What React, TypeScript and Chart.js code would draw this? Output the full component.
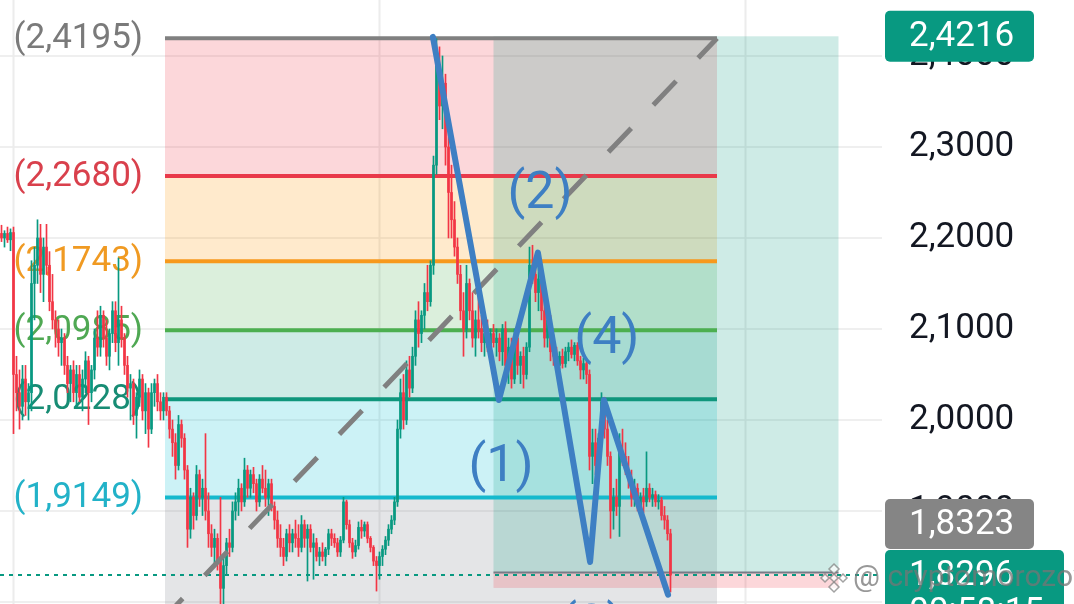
import React, { useEffect, useRef } from "react";
import { Chart, registerables } from "chart.js";

Chart.register(...registerables);

// OHLC candles: [open, high, low, close], one per time step
const candles: [number, number, number, number][] = [
  [2.205, 2.214, 2.196, 2.2], [2.2, 2.208, 2.19, 2.205], [2.205, 2.212, 2.195, 2.198], [2.198, 2.21, 2.186, 2.206],
  [2.206, 2.212, 1.985, 2.05], [2.05, 2.07, 2.01, 2.03], [2.03, 2.055, 1.99, 2.015], [2.015, 2.06, 2.0, 2.045],
  [2.045, 2.06, 2.005, 2.02], [2.02, 2.04, 2.0, 2.03], [2.03, 2.175, 2.01, 2.15], [2.15, 2.19, 2.11, 2.17],
  [2.17, 2.22, 2.15, 2.2], [2.2, 2.215, 2.14, 2.16], [2.16, 2.2, 2.13, 2.19], [2.19, 2.215, 2.16, 2.17],
  [2.17, 2.185, 2.12, 2.13], [2.13, 2.16, 2.1, 2.11], [2.11, 2.12, 2.08, 2.1], [2.1, 2.11, 2.07, 2.085],
  [2.085, 2.1, 2.06, 2.09], [2.09, 2.095, 2.05, 2.06], [2.06, 2.07, 2.03, 2.04], [2.04, 2.06, 2.02, 2.055],
  [2.055, 2.065, 2.02, 2.03], [2.03, 2.06, 2.015, 2.05], [2.05, 2.06, 2.02, 2.025], [2.025, 2.055, 2.01, 2.045],
  [2.045, 2.075, 2.03, 2.065], [2.065, 2.07, 1.995, 2.03], [2.03, 2.06, 2.02, 2.055], [2.055, 2.1, 2.045, 2.09],
  [2.09, 2.12, 2.07, 2.08], [2.08, 2.125, 2.07, 2.115], [2.115, 2.12, 2.08, 2.09], [2.09, 2.11, 2.06, 2.07],
  [2.07, 2.1, 2.055, 2.095], [2.095, 2.13, 2.085, 2.12], [2.12, 2.13, 2.075, 2.085], [2.085, 2.178, 2.06, 2.11],
  [2.11, 2.125, 2.08, 2.09], [2.09, 2.095, 2.05, 2.06], [2.06, 2.07, 2.025, 2.035], [2.035, 2.05, 2.0, 2.04],
  [2.04, 2.045, 1.995, 2.005], [2.005, 2.03, 1.98, 2.025], [2.025, 2.055, 2.015, 2.045], [2.045, 2.05, 2.0, 2.01],
  [2.01, 2.04, 1.985, 2.03], [2.03, 2.035, 1.97, 1.99], [1.99, 2.04, 1.985, 2.03], [2.03, 2.045, 2.015, 2.04],
  [2.04, 2.05, 2.01, 2.02], [2.02, 2.03, 2.0, 2.01], [2.01, 2.03, 2.0, 2.025], [2.025, 2.03, 2.005, 2.01],
  [2.01, 2.015, 1.98, 1.99], [1.99, 2.0, 1.96, 1.975], [1.975, 1.985, 1.935, 1.95], [1.95, 2.005, 1.945, 1.995],
  [1.995, 2.0, 1.97, 1.98], [1.98, 1.985, 1.935, 1.945], [1.945, 1.95, 1.86, 1.88], [1.88, 1.925, 1.87, 1.915],
  [1.915, 1.92, 1.88, 1.895], [1.895, 1.95, 1.89, 1.94], [1.94, 1.945, 1.905, 1.915], [1.915, 1.935, 1.895, 1.925],
  [1.925, 1.985, 1.89, 1.9], [1.9, 1.92, 1.86, 1.875], [1.875, 1.885, 1.85, 1.86], [1.86, 1.88, 1.84, 1.87],
  [1.87, 1.875, 1.835, 1.845], [1.845, 1.915, 1.797, 1.815], [1.815, 1.85, 1.797, 1.84], [1.84, 1.87, 1.83, 1.865],
  [1.865, 1.88, 1.85, 1.86], [1.86, 1.91, 1.855, 1.9], [1.9, 1.92, 1.89, 1.91], [1.91, 1.935, 1.895, 1.925],
  [1.925, 1.93, 1.9, 1.91], [1.91, 1.958, 1.905, 1.945], [1.945, 1.95, 1.915, 1.925], [1.925, 1.945, 1.915, 1.94],
  [1.94, 1.948, 1.92, 1.93], [1.93, 1.935, 1.9, 1.91], [1.91, 1.94, 1.905, 1.935], [1.935, 1.95, 1.92, 1.925],
  [1.925, 1.945, 1.905, 1.915], [1.915, 1.935, 1.895, 1.93], [1.93, 1.935, 1.9, 1.905], [1.905, 1.91, 1.88, 1.89],
  [1.89, 1.9, 1.86, 1.87], [1.87, 1.885, 1.85, 1.86], [1.86, 1.87, 1.84, 1.85], [1.85, 1.88, 1.845, 1.875],
  [1.875, 1.885, 1.855, 1.865], [1.865, 1.88, 1.855, 1.875], [1.875, 1.89, 1.86, 1.87], [1.87, 1.885, 1.85, 1.86],
  [1.86, 1.895, 1.855, 1.885], [1.885, 1.89, 1.86, 1.87], [1.87, 1.885, 1.823, 1.88], [1.88, 1.885, 1.855, 1.86],
  [1.86, 1.875, 1.825, 1.865], [1.865, 1.87, 1.845, 1.85], [1.85, 1.86, 1.84, 1.855], [1.855, 1.865, 1.845, 1.85],
  [1.85, 1.86, 1.84, 1.858], [1.858, 1.88, 1.852, 1.875], [1.875, 1.88, 1.862, 1.87], [1.87, 1.875, 1.86, 1.865],
  [1.865, 1.87, 1.85, 1.855], [1.855, 1.872, 1.85, 1.868], [1.868, 1.915, 1.865, 1.91], [1.91, 1.912, 1.88, 1.885],
  [1.885, 1.89, 1.86, 1.865], [1.865, 1.87, 1.848, 1.855], [1.855, 1.868, 1.85, 1.862], [1.862, 1.888, 1.858, 1.882],
  [1.882, 1.89, 1.87, 1.878], [1.878, 1.888, 1.872, 1.885], [1.885, 1.888, 1.865, 1.87], [1.87, 1.872, 1.855, 1.86],
  [1.86, 1.862, 1.84, 1.845], [1.845, 1.85, 1.812, 1.84], [1.84, 1.855, 1.825, 1.85], [1.85, 1.862, 1.84, 1.858],
  [1.858, 1.872, 1.852, 1.868], [1.868, 1.885, 1.862, 1.88], [1.88, 1.895, 1.875, 1.89], [1.89, 1.915, 1.885, 1.91],
  [1.91, 2.0, 1.905, 1.99], [1.99, 2.045, 1.98, 2.03], [2.03, 2.05, 1.99, 2.0], [2.0, 2.065, 1.995, 2.055],
  [2.055, 2.07, 2.025, 2.035], [2.035, 2.08, 2.03, 2.07], [2.07, 2.12, 2.06, 2.11], [2.11, 2.13, 2.08, 2.095],
  [2.095, 2.12, 2.085, 2.115], [2.115, 2.15, 2.1, 2.14], [2.14, 2.17, 2.12, 2.13], [2.13, 2.175, 2.125, 2.17],
  [2.17, 2.29, 2.16, 2.28], [2.28, 2.419, 2.27, 2.39], [2.39, 2.41, 2.33, 2.345], [2.345, 2.4, 2.32, 2.37],
  [2.37, 2.38, 2.28, 2.3], [2.3, 2.33, 2.2, 2.25], [2.25, 2.28, 2.2, 2.22], [2.22, 2.24, 2.18, 2.19],
  [2.19, 2.2, 2.15, 2.16], [2.16, 2.17, 2.11, 2.12], [2.12, 2.14, 2.07, 2.1], [2.1, 2.17, 2.09, 2.15],
  [2.15, 2.155, 2.11, 2.12], [2.12, 2.14, 2.08, 2.09], [2.09, 2.12, 2.07, 2.11], [2.11, 2.14, 2.09, 2.1],
  [2.1, 2.115, 2.075, 2.085], [2.085, 2.105, 2.07, 2.095], [2.095, 2.11, 2.075, 2.08], [2.08, 2.1, 2.07, 2.095],
  [2.095, 2.105, 2.08, 2.085], [2.085, 2.1, 2.07, 2.09], [2.09, 2.095, 2.065, 2.075], [2.075, 2.105, 2.06, 2.1],
  [2.1, 2.108, 2.045, 2.06], [2.06, 2.09, 2.04, 2.08], [2.08, 2.09, 2.035, 2.045], [2.045, 2.1, 2.04, 2.09],
  [2.09, 2.095, 2.05, 2.06], [2.06, 2.075, 2.04, 2.07], [2.07, 2.08, 2.035, 2.05], [2.05, 2.085, 2.045, 2.08],
  [2.08, 2.19, 2.075, 2.17], [2.17, 2.192, 2.15, 2.16], [2.16, 2.18, 2.13, 2.14], [2.14, 2.17, 2.12, 2.155],
  [2.155, 2.165, 2.11, 2.12], [2.12, 2.13, 2.08, 2.09], [2.09, 2.125, 2.08, 2.11], [2.11, 2.115, 2.065, 2.075],
  [2.075, 2.09, 2.06, 2.07], [2.07, 2.08, 2.055, 2.06], [2.06, 2.075, 2.055, 2.07], [2.07, 2.078, 2.057, 2.062],
  [2.062, 2.08, 2.058, 2.075], [2.075, 2.085, 2.065, 2.08], [2.08, 2.088, 2.068, 2.072], [2.072, 2.085, 2.065, 2.082],
  [2.082, 2.085, 2.06, 2.065], [2.065, 2.07, 2.045, 2.055], [2.055, 2.068, 2.045, 2.062], [2.062, 2.068, 2.04, 2.05],
  [2.05, 2.055, 1.945, 1.96], [1.96, 1.99, 1.93, 1.975], [1.975, 1.99, 1.94, 1.95], [1.95, 1.985, 1.945, 1.98],
  [1.98, 2.03, 1.975, 2.02], [2.02, 2.025, 1.98, 1.99], [1.99, 2.0, 1.95, 1.96], [1.96, 1.965, 1.87, 1.9],
  [1.9, 1.925, 1.88, 1.915], [1.915, 1.935, 1.895, 1.905], [1.905, 1.985, 1.872, 1.965], [1.965, 1.99, 1.95, 1.96],
  [1.96, 1.975, 1.94, 1.945], [1.945, 1.96, 1.925, 1.935], [1.935, 1.945, 1.905, 1.915], [1.915, 1.935, 1.905, 1.925],
  [1.925, 1.93, 1.9, 1.905], [1.905, 1.92, 1.895, 1.915], [1.915, 1.925, 1.898, 1.91], [1.91, 1.965, 1.905, 1.925],
  [1.925, 1.93, 1.91, 1.915], [1.915, 1.925, 1.905, 1.918], [1.918, 1.922, 1.905, 1.91], [1.91, 1.918, 1.902, 1.912],
  [1.912, 1.915, 1.89, 1.895], [1.895, 1.905, 1.88, 1.89], [1.89, 1.895, 1.868, 1.875], [1.875, 1.88, 1.811, 1.8296],
];

// Fibonacci retracement levels (top to bottom) and the anchor low
const fibPrices = [2.4195, 2.268, 2.1743, 2.0985, 2.0228, 1.9149];
const fibLow = 1.7775;
const fibLabels = ["(2,4195)", "(2,2680)", "(2,1743)", "(2,0985)", "(2,0228)", "(1,9149)"];
const fibLineColors = ["#808080", "#e9394a", "#f7991c", "#4caf50", "#0f967c", "#14b9cd"];
const fibTextColors = ["#7a7a7a", "#d9404c", "#f09a22", "#4fa853", "#178c74", "#22b2c8"];
const fibZoneColors = [
  "rgba(242,54,69,0.2)",
  "rgba(255,152,0,0.2)",
  "rgba(76,175,80,0.2)",
  "rgba(8,153,129,0.2)",
  "rgba(0,188,212,0.2)",
  "rgba(120,123,134,0.2)",
];
const fibTimes = [54.5, 238.5];

// Trend line from the anchor low to the anchor high
const trendTimes = [52.8, 238.5];
const trendPrices = [1.7775, 2.4195];

// Elliott wave path and its labels
const waveTimes = [143.8, 165.8, 178.8, 196.2, 200.8, 222.2];
const wavePrices = [2.421, 2.022, 2.184, 1.844, 2.022, 1.808];
const waveLabels = ["(1)", "(2)", "(3)", "(4)"];
const waveLabelTimes = [166.5, 179.5, 196.8, 201.8];
const waveLabelPrices = [1.9473, 2.2473, 1.7714, 2.0879];

// Long position: entry, target, stop and its time span
const positionTimes = [164, 279];
const entryPrice = 1.8323;
const targetPrice = 2.4216;
const stopPrice = 1.8155;
const lastPrice = 1.8296;
const countdown = "00:58:15";

const priceTicks = [1.8, 1.9, 2.0, 2.1, 2.2, 2.3, 2.4];
const timeGrid = [4, 126, 248];
const timeRange = [-0.5, 293.5];
const priceRange = [1.7978, 2.4615];

const GREEN = "#089981";
const RED = "#f23645";
const WAVE_BLUE = "#3e7fc3";
const FONT = "Roboto, 'Noto Sans', sans-serif";
const TEXT_SIZE = 35;

const fmt = (v: number) => v.toFixed(4).replace(".", ",");

export default function App() {
  const ref = useRef<HTMLCanvasElement | null>(null);

  useEffect(() => {
    const canvas = ref.current;
    if (!canvas) return;

    const colors = candles.map((c) => (c[3] >= c[0] ? GREEN : RED));
    const bodies = candles.map((c, i) => ({ x: i, y: [c[0], c[3]] }));
    const wicks = candles.map((c, i) => ({ x: i, y: [c[2], c[1]] }));

    const flat = (t0: number, t1: number, p: number) => [
      { x: t0, y: p },
      { x: t1, y: p },
    ];

    const lineBase = { type: "line" as const, pointRadius: 0, fill: false, tension: 0 };

    const fibDatasets = fibPrices.map((p, k) => ({
      ...lineBase,
      data: flat(fibTimes[0], fibTimes[1], p),
      borderColor: fibLineColors[k],
      borderWidth: 4,
      order: 6,
    }));

    const overlay = {
      id: "overlay",
      beforeDatasetsDraw(chart: any) {
        const { ctx, chartArea: a, scales } = chart;
        const x = scales.x;
        const y = scales.y;
        ctx.save();
        ctx.beginPath();
        ctx.rect(a.left, a.top, a.right - a.left, a.bottom - a.top);
        ctx.clip();

        // time grid
        ctx.strokeStyle = "#ececec";
        ctx.lineWidth = 2;
        timeGrid.forEach((t) => {
          const px = x.getPixelForValue(t);
          ctx.beginPath();
          ctx.moveTo(px, a.top);
          ctx.lineTo(px, a.bottom);
          ctx.stroke();
        });

        // fib zones
        const fx0 = x.getPixelForValue(fibTimes[0]);
        const fx1 = x.getPixelForValue(fibTimes[1]);
        const bounds = [...fibPrices, fibLow];
        for (let k = 0; k < fibPrices.length; k++) {
          const y0 = y.getPixelForValue(bounds[k]);
          const y1 = y.getPixelForValue(bounds[k + 1]);
          ctx.fillStyle = fibZoneColors[k];
          ctx.fillRect(fx0, y0, fx1 - fx0, y1 - y0);
        }

        // position boxes
        const px0 = x.getPixelForValue(positionTimes[0]);
        const px1 = x.getPixelForValue(positionTimes[1]);
        const yt = y.getPixelForValue(targetPrice);
        const ye = y.getPixelForValue(entryPrice);
        const ys = y.getPixelForValue(stopPrice);
        ctx.fillStyle = "rgba(8,153,129,0.2)";
        ctx.fillRect(px0, yt, px1 - px0, ye - yt);
        ctx.fillStyle = "rgba(242,54,69,0.2)";
        ctx.fillRect(px0, ye, px1 - px0, ys - ye);

        // fib level labels
        ctx.font = `${TEXT_SIZE}px ${FONT}`;
        ctx.textAlign = "right";
        ctx.textBaseline = "middle";
        fibPrices.forEach((p, k) => {
          ctx.fillStyle = fibTextColors[k];
          ctx.fillText(fibLabels[k], fx0 - 22, y.getPixelForValue(p) + 1);
        });
        ctx.restore();
      },
      afterDraw(chart: any) {
        const { ctx, chartArea: a, scales } = chart;
        const x = scales.x;
        const y = scales.y;
        ctx.save();

        // wave labels
        ctx.font = `52px ${FONT}`;
        ctx.textAlign = "center";
        ctx.textBaseline = "middle";
        ctx.fillStyle = WAVE_BLUE;
        waveLabels.forEach((s, k) => {
          ctx.fillText(s, x.getPixelForValue(waveLabelTimes[k]), y.getPixelForValue(waveLabelPrices[k]));
        });

        // price boxes on the axis
        const boxLeft = a.right + 3;
        const textLeft = a.right + 27;
        const box = (top: number, w: number, h: number, fill: string) => {
          ctx.fillStyle = fill;
          ctx.beginPath();
          if (ctx.roundRect) ctx.roundRect(boxLeft, top, w, h, 5);
          else ctx.rect(boxLeft, top, w, h);
          ctx.fill();
        };
        ctx.font = `${TEXT_SIZE}px ${FONT}`;
        ctx.textAlign = "left";
        ctx.textBaseline = "middle";

        const ty = y.getPixelForValue(targetPrice);
        box(ty - 25.5, 149, 51, GREEN);
        ctx.fillStyle = "#ffffff";
        ctx.fillText(fmt(targetPrice), textLeft, ty + 1);

        const ly = y.getPixelForValue(lastPrice);
        const lastTop = ly - 25;
        box(lastTop, 179, 110, GREEN);
        ctx.fillStyle = "#ffffff";
        ctx.fillText(fmt(lastPrice), textLeft, ly + 1);
        ctx.fillText(countdown, textLeft, ly + 38);

        const entryTop = lastTop - 51;
        box(entryTop, 149, 50, "#858585");
        ctx.fillStyle = "#ffffff";
        ctx.fillText(fmt(entryPrice), textLeft, entryTop + 26);

        // author mark
        ctx.globalAlpha = 0.7;
        ctx.strokeStyle = "#7a7a7a";
        ctx.fillStyle = "#ffffff";
        ctx.lineWidth = 1.5;
        const cx = 834;
        const cy = ly + 3;
        const diamond = (dx: number, dy: number, r: number) => {
          ctx.beginPath();
          ctx.moveTo(cx + dx, cy + dy - r);
          ctx.lineTo(cx + dx + r, cy + dy);
          ctx.lineTo(cx + dx, cy + dy + r);
          ctx.lineTo(cx + dx - r, cy + dy);
          ctx.closePath();
          ctx.fill();
          ctx.stroke();
        };
        diamond(0, -9, 5);
        diamond(0, 9, 5);
        diamond(-9, 0, 4);
        diamond(9, 0, 4);
        diamond(0, 0, 4);
        ctx.globalAlpha = 0.75;
        ctx.font = `30px ${FONT}`;
        ctx.fillStyle = "#767676";
        ctx.fillText("@ cryptomorozova", 853, cy);
        ctx.restore();
      },
    };

    const chart = new Chart(canvas, {
      type: "bar",
      data: {
        datasets: [
          ...fibDatasets,
          {
            ...lineBase,
            data: flat(timeRange[0], timeRange[1], lastPrice),
            borderColor: GREEN,
            borderWidth: 2,
            borderDash: [4, 5],
            order: 5,
          },
          {
            ...lineBase,
            data: flat(positionTimes[0], positionTimes[1], entryPrice),
            borderColor: "#787b86",
            borderWidth: 2,
            order: 5,
          },
          {
            type: "bar",
            data: wicks,
            backgroundColor: colors,
            barThickness: 1,
            grouped: false,
            order: 4,
          },
          {
            type: "bar",
            data: bodies,
            backgroundColor: colors,
            barThickness: 2,
            minBarLength: 1,
            grouped: false,
            order: 3,
          },
          {
            ...lineBase,
            data: trendTimes.map((t, k) => ({ x: t, y: trendPrices[k] })),
            borderColor: "#808080",
            borderWidth: 5,
            borderDash: [33, 32],
            order: 2,
          },
          {
            ...lineBase,
            data: waveTimes.map((t, k) => ({ x: t, y: wavePrices[k] })),
            borderColor: WAVE_BLUE,
            borderWidth: 6,
            borderJoinStyle: "round",
            borderCapStyle: "round",
            order: 1,
          },
        ] as any,
      },
      options: {
        animation: false,
        responsive: true,
        maintainAspectRatio: false,
        events: [],
        layout: { padding: 0 },
        plugins: { legend: { display: false }, tooltip: { enabled: false } },
        scales: {
          x: {
            type: "linear",
            display: false,
            offset: false,
            min: timeRange[0],
            max: timeRange[1],
          },
          y: {
            type: "linear",
            position: "right",
            min: priceRange[0],
            max: priceRange[1],
            afterBuildTicks: (s: any) => {
              s.ticks = priceTicks.map((v) => ({ value: v }));
            },
            afterFit: (s: any) => {
              s.width = 192;
              s.paddingTop = 0;
              s.paddingBottom = 0;
            },
            grid: { color: "#efefef", lineWidth: 2, drawTicks: false },
            border: { display: false },
            ticks: {
              padding: 27,
              color: "#131722",
              font: { family: FONT, size: TEXT_SIZE },
              callback: (v: any) => fmt(Number(v)),
            },
          },
        },
      } as any,
      plugins: [overlay],
    });

    return () => chart.destroy();
  }, []);

  return (
    <div style={{ position: "fixed", left: 0, top: 0, width: 1074, height: 604, background: "#ffffff" }}>
      <canvas ref={ref} />
    </div>
  );
}
